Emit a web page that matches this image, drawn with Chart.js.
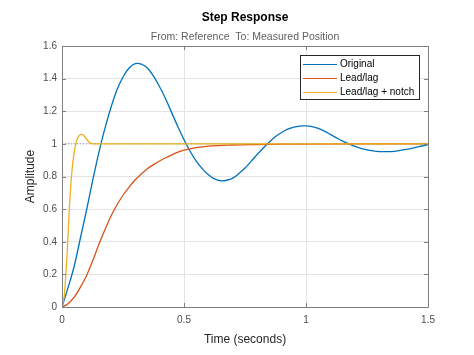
<!DOCTYPE html>
<html>
<head>
<meta charset="utf-8">
<script src="https://cdn.jsdelivr.net/npm/chart.js@4/dist/chart.umd.min.js"></script>
<style>
html,body{margin:0;padding:0;background:#fff;}
#wrap{width:474px;height:355px;}
</style>
</head>
<body>
<div id="wrap"><canvas id="c" width="474" height="355"></canvas></div>
<script>
// ---- data ----
const seriesNames = ['Original', 'Lead/lag', 'Lead/lag + notch'];

const timeOriginal = [0,0.025,0.05,0.075,0.1,0.125,0.15,0.175,0.2,0.225,0.25,0.275,0.3,0.325,0.35,0.375,0.4,0.425,0.45,0.475,0.5,0.525,0.55,0.575,0.6,0.625,0.65,0.675,0.7,0.725,0.75,0.775,0.8,0.825,0.85,0.875,0.9,0.925,0.95,0.975,1.0,1.025,1.05,1.075,1.1,1.125,1.15,1.175,1.2,1.225,1.25,1.275,1.3,1.325,1.35,1.375,1.4,1.425,1.45,1.475,1.5];
const ampOriginal  = [0,0.12,0.25,0.42,0.59,0.77,0.94,1.09,1.22,1.33,1.41,1.465,1.492,1.489,1.465,1.415,1.35,1.275,1.19,1.105,1.025,0.955,0.895,0.848,0.81,0.785,0.774,0.777,0.79,0.818,0.852,0.893,0.935,0.975,1.012,1.045,1.07,1.09,1.103,1.109,1.11,1.106,1.095,1.078,1.058,1.037,1.017,1.0,0.985,0.972,0.963,0.957,0.953,0.952,0.953,0.957,0.963,0.97,0.978,0.987,0.995];

const timeLeadLag = [0,0.025,0.05,0.075,0.1,0.125,0.15,0.175,0.2,0.225,0.25,0.275,0.3,0.325,0.35,0.375,0.4,0.425,0.45,0.475,0.5,0.55,0.6,0.7,0.8,0.9,1.0,1.25,1.5];
const ampLeadLag  = [0,0.02,0.06,0.12,0.19,0.28,0.38,0.47,0.555,0.625,0.685,0.735,0.78,0.815,0.848,0.873,0.895,0.915,0.933,0.95,0.962,0.977,0.986,0.993,0.996,0.998,0.999,1.0,1.0];

const timeNotch = [0,0.01,0.02,0.03,0.04,0.05,0.06,0.07,0.08,0.09,0.1,0.11,0.12,0.13,0.15,0.5,1.0,1.5];
const ampNotch  = [0,0.08,0.3,0.6,0.82,0.95,1.02,1.05,1.058,1.05,1.03,1.012,1.003,1.0,1.0,1.0,1.0,1.0];

const timeSteady = [0,1.5];
const ampSteady  = [1,1];

const xTicks = [0,0.5,1,1.5];
const yTicks = [0,0.2,0.4,0.6,0.8,1,1.2,1.4,1.6];

const titleText = 'Step Response';
const subtitleText = 'From: Reference  To: Measured Position';
const xLabel = 'Time (seconds)';
const yLabel = 'Amplitude';

// ---- helpers ----
function pts(t, a){ return t.map((v,i)=>({x:v, y:a[i]})); }
const FONT = '"Liberation Sans", Arial, Helvetica, sans-serif';
const colors = ['#0072BD', '#D95319', '#EDB120'];
const boxColor = '#7f7f7f';

const boxPlugin = {
  id: 'boxTicks',
  afterDraw(chart){
    const {ctx, chartArea:a, scales:{x, y}} = chart;
    ctx.save();
    // titles centred over the axes box
    const cx = (a.left + a.right) / 2;
    ctx.textAlign = 'center';
    ctx.textBaseline = 'middle';
    ctx.fillStyle = '#000';
    ctx.font = 'bold 12px ' + FONT;
    ctx.fillText(titleText, cx, 18);
    ctx.fillStyle = '#5f5f5f';
    ctx.font = '10.5px ' + FONT;
    ctx.fillText(subtitleText, cx, 37);

    ctx.strokeStyle = boxColor;
    ctx.lineWidth = 1;
    ctx.beginPath();
    ctx.rect(Math.round(a.left)+0.5, Math.round(a.top)+0.5, Math.round(a.right-a.left), Math.round(a.bottom-a.top));
    ctx.stroke();
    const L = 4;
    ctx.beginPath();
    xTicks.forEach(v=>{
      const px = Math.round(x.getPixelForValue(v))+0.5;
      ctx.moveTo(px, a.bottom); ctx.lineTo(px, a.bottom-L);
      ctx.moveTo(px, a.top); ctx.lineTo(px, a.top+L);
    });
    yTicks.forEach(v=>{
      const py = Math.round(y.getPixelForValue(v))+0.5;
      ctx.moveTo(a.left, py); ctx.lineTo(a.left+L, py);
      ctx.moveTo(a.right, py); ctx.lineTo(a.right-L, py);
    });
    ctx.stroke();

    // legend box (MATLAB style, inside top-right)
    const bx = 300.5, by = 55.5, bw = 119, bh = 44;
    ctx.fillStyle = '#fff';
    ctx.fillRect(bx, by, bw, bh);
    ctx.strokeStyle = '#262626';
    ctx.strokeRect(bx, by, bw, bh);
    ctx.font = '10px ' + FONT;
    ctx.textAlign = 'left';
    ctx.textBaseline = 'middle';
    ctx.fillStyle = '#000';
    for (let i=0;i<3;i++){
      const ds = chart.data.datasets[i];
      const ry = 64.5 + i*14;
      ctx.strokeStyle = ds.borderColor;
      ctx.lineWidth = 1.1;
      ctx.beginPath(); ctx.moveTo(303, ry); ctx.lineTo(337, ry); ctx.stroke();
      ctx.fillText(ds.label, 340, ry);
    }
    ctx.restore();
  }
};

new Chart(document.getElementById('c'), {
  type: 'line',
  data: {
    datasets: [
      {label: seriesNames[0], data: pts(timeOriginal, ampOriginal), borderColor: colors[0], order: 3, tension: 0.35, cubicInterpolationMode: 'default'},
      {label: seriesNames[1], data: pts(timeLeadLag, ampLeadLag), borderColor: colors[1], order: 2},
      {label: seriesNames[2], data: pts(timeNotch, ampNotch), borderColor: colors[2], order: 1},
      {label: 'steady', data: pts(timeSteady, ampSteady), borderColor: '#9a9a9a', borderDash: [1,2], borderWidth: 1, order: 4, cubicInterpolationMode: 'default', tension: 0}
    ]
  },
  options: {
    responsive: false,
    animation: false,
    devicePixelRatio: 1,
    elements: {
      point: {radius: 0},
      line: {borderWidth: 1.3, cubicInterpolationMode: 'monotone', fill: false}
    },
    layout: {padding: {left: 0, right: 46, top: 46, bottom: 0}},
    plugins: {
      legend: {display: false},
      tooltip: {enabled: false},
      title: {display: false},
      subtitle: {display: false}
    },
    scales: {
      x: {
        type: 'linear', min: 0, max: 1.5,
        afterBuildTicks(s){ s.ticks = xTicks.map(v=>({value:v})); },
        afterFit(s){ s.height = 48; },
        ticks: {color: '#4d4d4d', font: {family: FONT, size: 10}, padding: 7, maxRotation: 0,
                callback: v => String(v)},
        grid: {color: '#e3e3e3', drawTicks: false},
        border: {display: false},
        title: {display: true, text: xLabel, color: '#262626',
                font: {family: FONT, size: 12, lineHeight: 1.2}, padding: {top: 0, bottom: 8}}
      },
      y: {
        type: 'linear', min: 0, max: 1.6,
        afterBuildTicks(s){ s.ticks = yTicks.map(v=>({value:v})); },
        afterFit(s){ s.width = 62; },
        ticks: {color: '#4d4d4d', font: {family: FONT, size: 10}, padding: 5,
                callback: v => String(Math.round(v*10)/10)},
        grid: {color: '#e3e3e3', drawTicks: false},
        border: {display: false},
        title: {display: true, text: yLabel, color: '#262626',
                font: {family: FONT, size: 12, lineHeight: 1.2}, padding: {top: 23, bottom: 0}}
      }
    }
  },
  plugins: [boxPlugin]
});
</script>
</body>
</html>
